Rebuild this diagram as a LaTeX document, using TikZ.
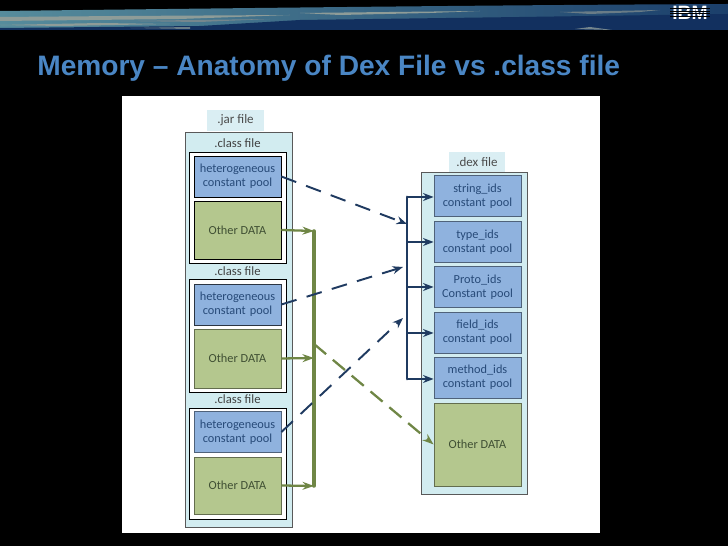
\documentclass[tikz,border=0pt]{standalone}
\usepackage{fontspec}
\setmainfont{Carlito}
\newfontfamily\titlefont{Liberation Sans}
\usetikzlibrary{arrows.meta}
\definecolor{panelcyan}{HTML}{D2ECF0}
\definecolor{tagcyan}{HTML}{DAEEF3}
\definecolor{poolblue}{HTML}{8FB2DE}
\definecolor{datagreen}{HTML}{B4C78E}
\definecolor{navyline}{HTML}{1F3A60}
\definecolor{greenline}{HTML}{6F8645}
\definecolor{pooltext}{HTML}{274A78}
\definecolor{datatext}{HTML}{3F4F33}
\definecolor{titleblue}{HTML}{4A86C4}
\definecolor{bandtop}{HTML}{568C9C}
\definecolor{bandright}{HTML}{1B3F6B}
\definecolor{bandlow}{HTML}{12305F}
\definecolor{bandtan}{HTML}{8E9C98}
\tikzstyle{tagbox} = [rectangle, fill=tagcyan, inner sep=0pt, text centered, font=\fontsize{7.4}{9}\selectfont, text=black!70]
\tikzstyle{filebox} = [rectangle, draw=black!65, fill=panelcyan, line width=0.4pt, inner sep=0pt]
\tikzstyle{classbox} = [rectangle, draw=black, fill=white, line width=0.45pt, minimum width=1.94cm, inner sep=0pt]
\tikzstyle{classtag} = [font=\fontsize{7.2}{9}\selectfont, text=black!75]
\tikzstyle{poolbox} = [rectangle, draw=black!45!poolblue, fill=poolblue, line width=0.45pt, minimum width=1.74cm, minimum height=0.82cm, inner sep=0pt, text centered, text width=1.7cm, text=pooltext, font=\fontsize{7}{8}\selectfont]
\tikzstyle{databox} = [rectangle, draw=black!45!datagreen, fill=datagreen, line width=0.45pt, minimum width=1.74cm, inner sep=0pt, text centered, text=datatext, font=\fontsize{7}{8}\selectfont]
\tikzstyle{navyarrow} = [navyline, line width=1.1pt, -{Stealth[length=6pt, width=4.5pt]}]
\tikzstyle{greenarrow} = [greenline, line width=1.3pt, -{Stealth[length=6.5pt, width=4.5pt]}]
\tikzstyle{navydash} = [navyarrow, dash pattern=on 9pt off 6pt]
\tikzstyle{greendash} = [greenarrow, dash pattern=on 9pt off 5pt]

\begin{document}
\begin{tikzpicture}[x=0.02cm, y=-0.02cm]
        \useasboundingbox (0,0) rectangle (728,546);
        \fill [black] (0,0) rectangle (728,546);
        % banner
        \fill [left color=bandtop, right color=bandright] (0,11) .. controls (250,8) and (500,5) .. (728,4) -- (728,30) -- (0,30) -- cycle;
        \fill [bandlow] (0,28) -- (200,26) -- (300,20) -- (520,17) -- (728,14) -- (728,30) -- (0,30) -- cycle;
        \fill [bandtan] (0,17) -- (120,16) -- (290,15) -- (180,19) -- (0,21) -- cycle;
        \fill [bandtan] (300,13) -- (480,11) -- (430,13) -- (340,15) -- cycle;
        \fill [bandtan] (0,25) -- (100,23) -- (170,24) -- (60,26) -- cycle;
        \fill [bandtan!80!bandlow] (120,21) -- (270,19) -- (200,22) -- cycle;
        \fill [bandtan!70!bandlow] (560,12) -- (660,10) -- (640,12) -- (590,14) -- cycle;
        \fill [bandtan!70!bandlow] (130,28) -- (190,27) -- (190,29) -- cycle;
        \fill [bandtan!80!bandlow] (575,29) -- (590,27) -- (612,30) -- cycle;
        \node (ibm) at (690,13) {\titlefont\bfseries\color{white}\fontsize{11}{11}\selectfont IBM};
        \foreach \y in {8.5,11,13.5,16} \draw [black, line width=0.35pt] (670,\y) -- (710,\y);
        \node (title) [anchor=west, inner sep=0pt, text=titleblue, font=\titlefont\bfseries\fontsize{16}{18}\selectfont] at (37,68) {Memory – Anatomy of Dex File vs .class file};
        \fill [white] (122,96) rectangle (600,533);

        \node (jar) [tagbox, minimum width=1.14cm, minimum height=0.42cm] at (235.5,120.5) {.jar file};
        \node (jarfile) [filebox, minimum width=2.14cm, minimum height=7.9cm] at (238.5,329.5) {};
        \node (classtagA) [classtag] at (237.5,143.5) {.class file};
        \node (classA) [classbox, minimum height=2.22cm] at (237.5,207.5) {};
        \node (classtagB) [classtag] at (237.5,271.5) {.class file};
        \node (classB) [classbox, minimum height=2.26cm] at (237.5,335.5) {};
        \node (classtagC) [classtag] at (237.5,399) {.class file};
        \node (classC) [classbox, minimum height=2.22cm] at (237.5,463.5) {};

        \node (poolA) [poolbox, draw=black] at (237.5,176.5) {heterogeneous\\constant pool};
        \node (dataA) [databox, draw=black, minimum height=1.16cm] at (237.5,230) {Other DATA};
        \node (poolB) [poolbox, draw=black!70!poolblue] at (237.5,304.5) {heterogeneous\\constant pool};
        \node (dataB) [databox, minimum height=1.18cm] at (237.5,358.5) {Other DATA};
        \node (poolC) [poolbox] at (237.5,432) {heterogeneous\\constant pool};
        \node (dataC) [databox, minimum height=1.14cm] at (237.5,485.5) {Other DATA};

        \node (dex) [tagbox, minimum width=1.12cm, minimum height=0.4cm] at (477,162) {.dex file};
        \node (dexfile) [filebox, minimum width=2.12cm, minimum height=6.44cm] at (474,333) {};
        \node (stringids) [poolbox] at (477.5,196) {string\_ids\\constant pool};
        \node (typeids) [poolbox] at (477.5,242) {type\_ids\\constant pool};
        \node (protoids) [poolbox] at (477.5,287) {Proto\_ids\\Constant pool};
        \node (fieldids) [poolbox] at (477.5,332.5) {field\_ids\\constant pool};
        \node (methodids) [poolbox] at (477.5,377.5) {method\_ids\\constant pool};
        \node (dexdata) [databox, minimum height=1.66cm] at (477.5,444.5) {Other DATA};

        \coordinate (navytop) at (407,197);
        \coordinate (navyA) at (407,242);
        \coordinate (navyB) at (407,287);
        \coordinate (navyC) at (407,333);
        \coordinate (navybottom) at (407,379);
        \coordinate (greentop) at (314,231);
        \coordinate (greenmid) at (314,358);
        \coordinate (greenbottom) at (314,486);
        \coordinate (greenbranch) at (314,344);
        \coordinate (navyinA) at (407,224);
        \coordinate (navyinB) at (403,267);
        \coordinate (navyinC) at (403,318);

        \draw [navyline, line width=1.7pt, line cap=round] (navytop) -- (navybottom);
        \draw [navyarrow] (navytop) -- (stringids.west |- navytop);
        \draw [navyarrow] (navyA) -- (typeids.west |- navyA);
        \draw [navyarrow] (navyB) -- (protoids.west |- navyB);
        \draw [navyarrow] (navyC) -- (fieldids.west |- navyC);
        \draw [navyarrow] (navybottom) -- (methodids.west |- navybottom);

        \draw [greenline, line width=2pt, line cap=round] (greentop) -- (greenbottom);
        \draw [greenarrow] (dataA.east) -- (greentop);
        \draw [greenarrow] (dataB.east) -- (greenmid);
        \draw [greenarrow] (dataC.east) -- (greenbottom);

        \draw [navydash] (poolA.east) -- (navyinA);
        \draw [navydash] (poolB.east) -- (navyinB);
        \draw [navydash] (poolC.east) -- (navyinC);
        \draw [greendash] (greenbranch) -- (dexdata.west);
    \end{tikzpicture}
\end{document}
